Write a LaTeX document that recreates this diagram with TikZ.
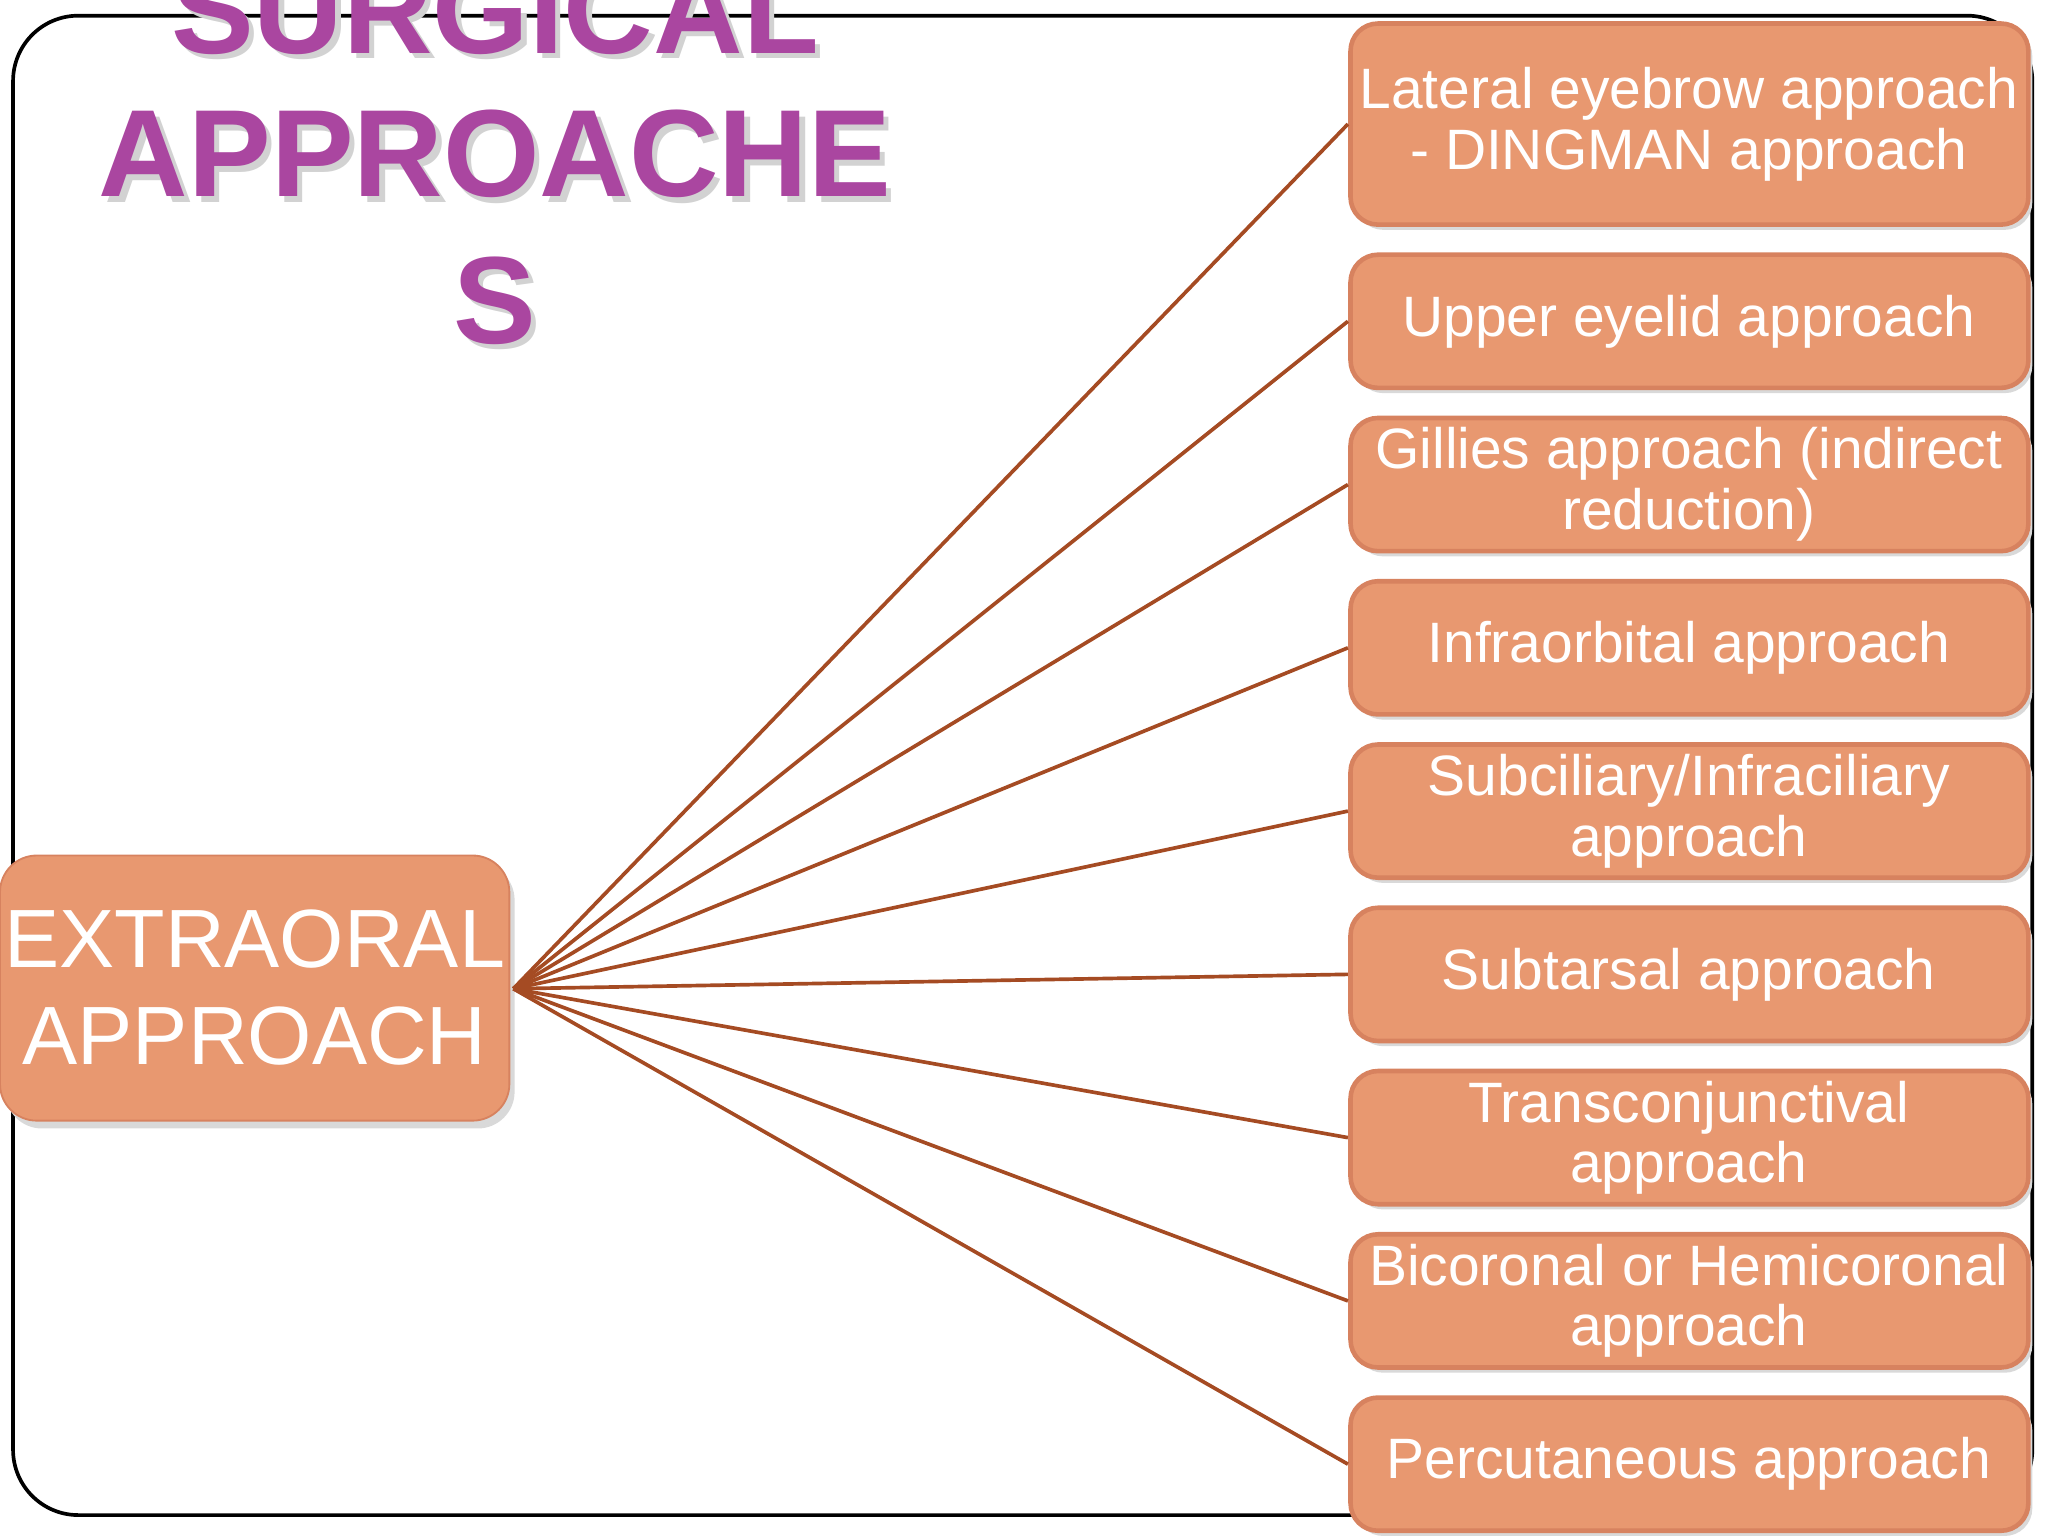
\documentclass[tikz,border=0pt]{standalone}
\usepackage{fontspec}
\setmainfont{Liberation Sans}
\begin{document}
\begin{tikzpicture}[x=0.01cm,y=-0.01cm]
\definecolor{boxc}{RGB}{232,152,112}
\definecolor{boxe}{RGB}{215,130,95}
\definecolor{linec}{RGB}{165,75,35}
\definecolor{titc}{RGB}{170,70,160}
\tikzset{
 conn/.style={draw=linec,line width=0.8pt},
 tit/.style={text=titc,font=\fontsize{27}{30}\selectfont\bfseries}
}
\useasboundingbox (0,0) rectangle (1568,1176);
\clip (0,0) rectangle (1568,1176);
\draw[line width=0.8pt,rounded corners=0.5cm] (10,12) rectangle (1556,1160);
% title
\foreach \t/\y in {SURGICAL/8,APPROACHE/118,S/230}{
 \node[tit,text=gray!35] at (383,\y+4) {\t};
 \node[tit] (t\y) at (379,\y) {\t};
}
% left box
\fill[gray!30,rounded corners=8] (4,661) rectangle (394,864);
\draw[draw=boxe,fill=boxc,rounded corners=8] (0,655) rectangle (390,858);
\node[text=white,font=\fontsize{18}{21}\selectfont,align=center,inner sep=0pt] (L) at (195,756) {EXTRAORAL\\APPROACH};
\coordinate (hub) at (393,757);
% right boxes
\foreach \n/\ya/\yb/\txt in {
 1/18/172/{Lateral eyebrow approach\\- DINGMAN approach},
 2/195/297/{Upper eyelid approach},
 3/320/422/{Gillies approach (indirect\\reduction)},
 4/445/547/{Infraorbital approach},
 5/570/672/{Subciliary/Infraciliary\\approach},
 6/695/797/{Subtarsal approach},
 7/820/922/{Transconjunctival\\approach},
 8/945/1047/{Bicoronal or Hemicoronal\\approach},
 9/1070/1172/{Percutaneous approach}}{
 \fill[gray!30,rounded corners=6] (1038,\ya+4) rectangle (1556,\yb+4);
 \draw[draw=boxe,line width=1pt,fill=boxc,rounded corners=6] (1034,\ya) rectangle (1553,\yb);
 \node[text=white,font=\fontsize{12.4}{13.2}\selectfont,align=center,inner sep=0pt] (r\n) at (1293,{(\ya+\yb)/2}) {\txt};
 \coordinate (w\n) at (1032,{(\ya+\yb)/2});
 \draw[conn] (hub) -- (w\n);
}
\end{tikzpicture}
\end{document}
